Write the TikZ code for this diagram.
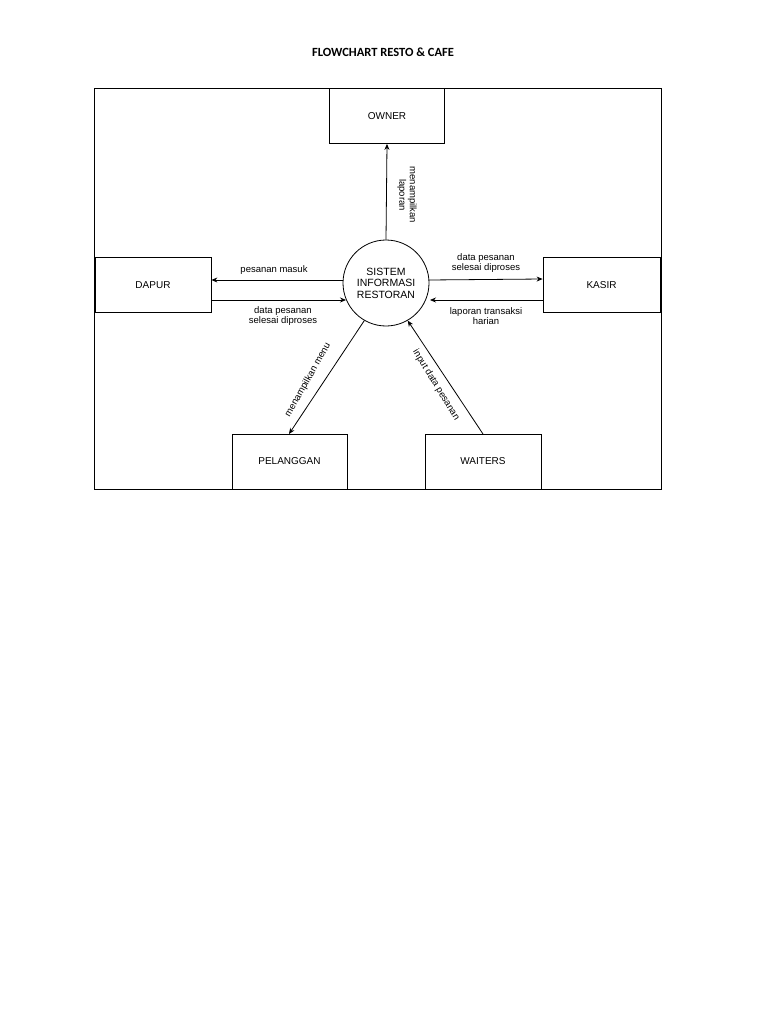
\documentclass[tikz,border=0pt]{standalone}
\usepackage{fontspec}
\setmainfont{Liberation Sans}
\newfontfamily\titlefont{Carlito}
\usetikzlibrary{arrows.meta}
\begin{document}
\begin{tikzpicture}[x=1pt,y=-1pt,
  box/.style={draw,thick,minimum width=115pt,minimum height=55pt,inner sep=0,font=\fontsize{10}{11}\selectfont},
  lbl/.style={font=\fontsize{9.5}{10.5}\selectfont,align=center,inner sep=1pt},
  arr/.style={-{Stealth[length=6pt,width=5pt]},thick}]
\useasboundingbox (0,0) rectangle (768,1024);
\fill[white] (0,0) rectangle (768,1024);
\node[font=\titlefont\bfseries\fontsize{12.5}{14}\selectfont] (title) at (383,52) {FLOWCHART RESTO \& CAFE};
\draw[thick] (94,88) rectangle (661,489);
\node[box] (owner) at (387,116) {OWNER};
\node[box,minimum width=116pt] (dapur) at (153,285) {DAPUR};
\node[box,minimum width=117pt] (kasir) at (601.5,285) {KASIR};
\node[box] (pel) at (289.5,461.5) {PELANGGAN};
\node[box,minimum width=116pt] (wait) at (483,461.5) {WAITERS};
\node[draw,thick,circle,minimum size=86pt,inner sep=0,align=center,font=\fontsize{10.5}{11.5}\selectfont] (sis) at (386,283) {SISTEM\\INFORMASI\\RESTORAN};
\draw[arr] (sis.north) -- (owner.south);
\node[lbl,rotate=-90] (l1) at (407,195) {menampilkan\\laporan};
\coordinate (d1) at (dapur.east |- 0,280);
\draw[arr] (343,280) -- (d1);
\node[lbl] (l2) at (274,270) {pesanan masuk};
\coordinate (d2) at (dapur.east |- 0,300);
\draw[arr] (d2) -- (346,300);
\node[lbl] (l3) at (283,316) {data pesanan\\selesai diproses};
\coordinate (k1) at (kasir.west |- 0,279);
\draw[arr] (429,280) -- (k1);
\node[lbl] (l4) at (486,263) {data pesanan\\selesai diproses};
\coordinate (k2) at (kasir.west |- 0,300);
\draw[arr] (k2) -- (430,300);
\node[lbl] (l5) at (486,316) {laporan transaksi\\harian};
\coordinate (p1) at (289,434);
\draw[arr] (sis.-120) -- (p1);
\node[lbl,rotate=60.5] (l6) at (308,380) {menampilkan menu};
\coordinate (w1) at (483,434);
\draw[arr] (w1) -- (sis.-60);
\node[lbl,rotate=-58.5] (l7) at (436,385) {input data pesanan};
\end{tikzpicture}
\end{document}
